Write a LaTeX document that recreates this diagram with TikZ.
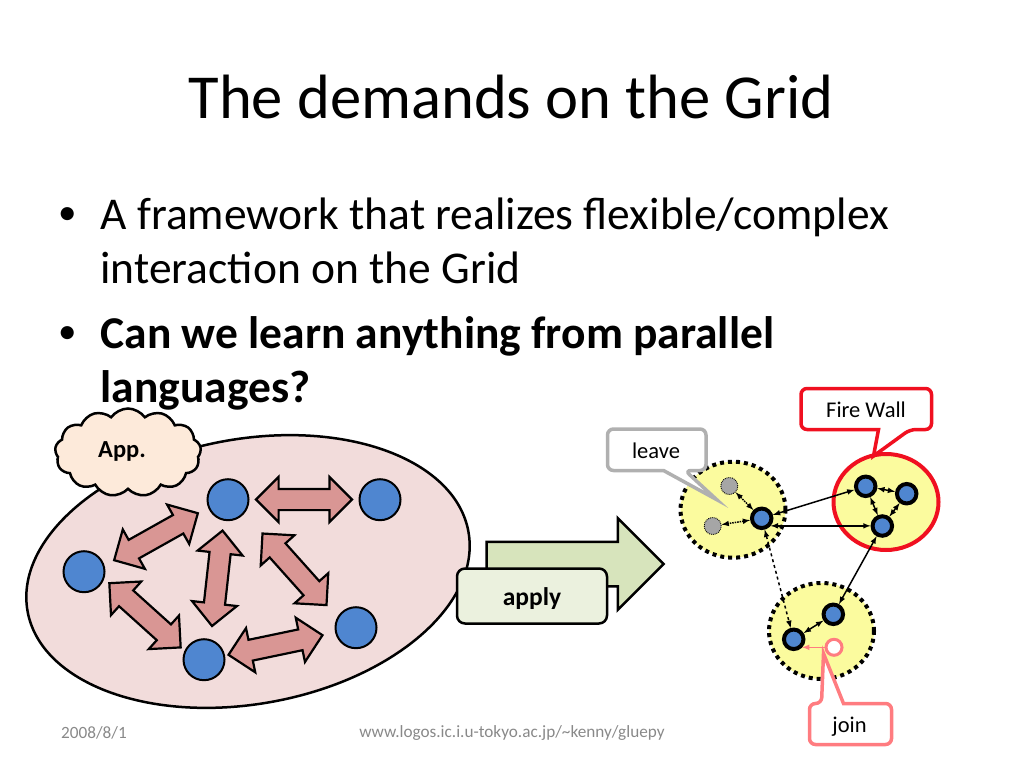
\documentclass[tikz,border=0pt]{standalone}
\usepackage{fontspec}
\setmainfont{Carlito}
\usetikzlibrary{shapes.geometric,shapes.arrows,shapes.symbols}
\definecolor{pinkbg}{HTML}{F2DCDB}
\definecolor{linkred}{HTML}{D99694}
\definecolor{peerblue}{HTML}{4F86D0}
\definecolor{cloudbg}{HTML}{FDEADA}
\definecolor{applybg}{HTML}{EBF1DE}
\definecolor{arrowbg}{HTML}{D7E4BC}
\definecolor{sitebg}{HTML}{FBFB9E}
\definecolor{wallred}{HTML}{F01020}
\definecolor{joinpink}{HTML}{FF7C80}
\definecolor{leavegray}{HTML}{B0B0B0}
\definecolor{footgray}{HTML}{898989}
\tikzset{
	peer/.style={circle,draw,fill=peerblue,line width=2pt,minimum size=41pt,inner sep=0pt},
	link/.style={double arrow,draw,fill=linkred,line width=2.2pt,inner xsep=0pt,inner ysep=9.5pt,
		double arrow head extend=12pt,minimum height=96pt},
	site/.style={ellipse,fill=sitebg,minimum width=105pt,minimum height=96pt,inner sep=0pt},
	sitedots/.style={site,draw,line width=4pt,dash pattern=on 4pt off 4pt},
	minipeer/.style={circle,draw,fill=peerblue,line width=4pt,minimum size=19.5pt,inner sep=0pt},
	gonepeer/.style={circle,draw,densely dotted,fill=gray!70,line width=.9pt,minimum size=17pt,inner sep=0pt},
	wire/.style={<->,>=latex,line width=1.5pt},
	bubble/.style={fill=white,line width=3.5pt,rounded corners=6pt},
	bubbletext/.style={font=\fontsize{22.5}{27}\selectfont},
	bodytext/.style={anchor=base west,align=left,font=\fontsize{45.5}{54}\selectfont},
	bullet/.style={anchor=base west,font=\fontsize{37}{44}\selectfont},
	foot/.style={text=footgray,font=\fontsize{17.2}{20}\selectfont}
}
\begin{document}
\begin{tikzpicture}[x=1pt,y=-1pt]
	\useasboundingbox (0,0) rectangle (1024,768);
	\node[font=\fontsize{62.6}{75}\selectfont] (title) at (511,97) {The demands on the Grid};
	\node[bullet] (bull1) at (54.5,224) {•};
	\node[bodytext] (item1) at (97,283) {A framework that realizes flexible/complex\\interaction on the Grid};
	\node[bullet] (bull2) at (54.5,343) {•};
	\node[bodytext] (item2) at (97,402) {\textbf{Can we learn anything from parallel}\\\textbf{languages?}};
	\node[foot] (date) at (94,733) {2008/8/1};
	\node[foot] (url) at (512,733) {www.logos.ic.i.u-tokyo.ac.jp/\textasciitilde kenny/gluepy};

	\node[ellipse,draw,fill=pinkbg,line width=2.5pt,rotate=10.25,minimum width=448pt,minimum height=265pt,inner sep=0pt] (app) at (248,571.5) {};
	\node[cloud,draw,fill=cloudbg,line width=2.5pt,cloud puffs=13,cloud puff arc=110,aspect=1.6,minimum width=146pt,minimum height=88pt,inner sep=0pt] (cloud) at (128,452.5) {};
	\node[font=\fontsize{24.5}{29}\selectfont\bfseries] (applabel) at (122,451) {App.};

	\node[peer] (p1) at (228,499.7) {};
	\node[peer] (p2) at (380,499.7) {};
	\node[peer] (p3) at (84,571.7) {};
	\node[peer] (p4) at (356,627.7) {};
	\node[peer] (p5) at (204,659.7) {};
	\node[link] (l12) at (304,499.5) {};
	\node[link,rotate=29.3] (l13) at (156,536.7) {};
	\node[link,rotate=83.7] (l15) at (217.3,578.3) {};
	\node[link,rotate=-48.2] (l14) at (294.5,569.3) {};
	\node[link,rotate=-42] (l35) at (145,615.3) {};
	\node[link,rotate=11.8] (l54) at (275.5,645) {};

	\node[single arrow,draw,fill=arrowbg,line width=2.5pt,inner xsep=0pt,inner ysep=21pt,single arrow head extend=23.5pt,minimum height=177pt] (big) at (564,564) {};
	\node[rectangle,draw,fill=applybg,line width=2.5pt,rounded corners=8pt,minimum width=150pt,minimum height=55pt,text height=22pt,text depth=3pt,font=\fontsize{25.5}{30}\selectfont\bfseries] (apply) at (532,596) {apply};

	\node[sitedots] (leavesite) at (733,509.7) {};
	\node[site,draw=wallred,line width=4pt] (wallsite) at (886,502) {};
	\node[sitedots] (joinsite) at (821.5,631) {};

	\node[gonepeer] (g1) at (729.3,486) {};
	\node[gonepeer] (g2) at (712.7,526) {};
	\node[minipeer] (m1) at (761.7,518.3) {};
	\node[minipeer] (w1) at (865.7,486.3) {};
	\node[minipeer] (w2) at (906.7,493.7) {};
	\node[minipeer] (w3) at (882.3,526) {};
	\node[minipeer] (j1) at (833.3,614.3) {};
	\node[minipeer] (j2) at (793.7,639.3) {};
	\node[circle,draw=joinpink,fill=white,line width=3pt,minimum size=16pt,inner sep=0pt] (jnew) at (834,647.3) {};

	\draw[wire,densely dotted] (m1) -- (g1);
	\draw[wire,densely dotted] (m1) -- (g2);
	\draw[wire] (m1) -- (w1);
	\draw[wire] (m1.320) -- (w3.west |- m1.320);
	\draw[wire,dashed] (m1) -- (j2);
	\draw[wire] (w1) -- (w2);
	\draw[wire] (w1) -- (w3);
	\draw[wire] (w2) -- (w3);
	\draw[wire] (w3) -- (j1);
	\draw[wire] (j1) -- (j2);
	\draw[->,>=latex,draw=joinpink,line width=1.5pt] (jnew.west) -- (j2.-45 |- jnew.west);

	\draw[bubble,draw=wallred] (801,388.5) -- (931.5,388.5) -- (931.5,429.5) -- (910,429.5) [sharp corners] -- (873.5,456) -- (878.5,429.5) [rounded corners=6pt] -- (801,429.5) -- cycle;
	\node[bubbletext] (walltext) at (866,410) {Fire Wall};
	\draw[bubble,draw=leavegray] (607.5,429) -- (706,429) -- (706,470.5) -- (685,470.5) [sharp corners] -- (716.5,499.5) -- (663.5,470.5) [rounded corners=6pt] -- (607.5,470.5) -- cycle;
	\node[bubbletext] (leavetext) at (656,451) {leave};
	\draw[bubble,draw=joinpink] (809.5,703.5) -- (821.5,703.5) [sharp corners] -- (823.5,653.5) -- (843.5,703.5) [rounded corners=6pt] -- (891.5,703.5) -- (891.5,744.5) -- (809.5,744.5) -- cycle;
	\node[bubbletext] (jointext) at (849.5,727) {join};
\end{tikzpicture}
\end{document}
